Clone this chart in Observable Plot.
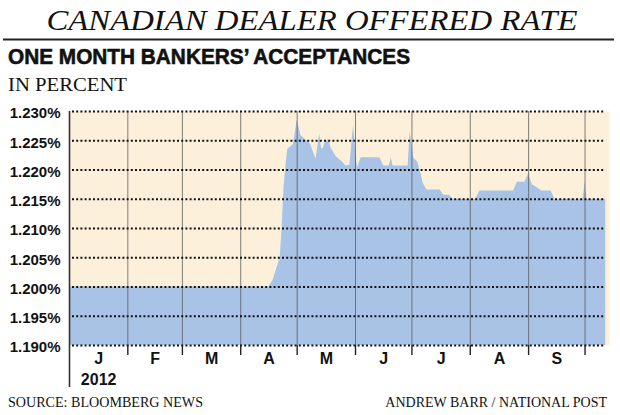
<!DOCTYPE html>
<html>
<head>
<meta charset="utf-8">
<script src="https://cdn.jsdelivr.net/npm/d3@7"></script>
<script src="https://cdn.jsdelivr.net/npm/@observablehq/plot@0.6"></script>
<style>
  html, body { margin: 0; padding: 0; background: #fff; }
  #page { position: relative; width: 620px; height: 415px; overflow: hidden; }
  #header, #footer { position: absolute; left: 0; }
  #header { top: 0; }
  #footer { top: 392px; }
  #chart { position: absolute; top: 100px; left: 0; width: 620px; height: 292px; }
  #chart svg { display: block; max-width: none; }
</style>
</head>
<body>
<div id="page">
  <svg id="header" width="620" height="100">
    <text x="46.5" y="29.5" textLength="531" lengthAdjust="spacingAndGlyphs" font-family="'Liberation Serif', serif" font-style="italic" font-size="30" fill="#111">CANADIAN DEALER OFFERED RATE</text>
    <rect x="3" y="38.5" width="611" height="2" fill="#222"></rect>
    <text x="8" y="63.5" textLength="402" lengthAdjust="spacingAndGlyphs" font-family="'Liberation Sans', sans-serif" font-weight="bold" font-size="22" fill="#111" stroke="#111" stroke-width="0.6">ONE MONTH BANKERS’ ACCEPTANCES</text>
    <text x="8" y="90.5" textLength="119" lengthAdjust="spacingAndGlyphs" font-family="'Liberation Serif', serif" font-size="18.5" fill="#111">IN PERCENT</text>
  </svg>
  <div id="chart"></div>
  <svg id="footer" width="620" height="23">
    <text x="8" y="14.5" textLength="195" lengthAdjust="spacingAndGlyphs" font-family="'Liberation Serif', serif" font-size="14" fill="#111">SOURCE: BLOOMBERG NEWS</text>
    <text x="607" y="14.5" text-anchor="end" font-family="'Liberation Serif', serif" font-size="14" fill="#111">ANDREW BARR / NATIONAL POST</text>
  </svg>
</div>
<script>
// ---- data ----
const dates = [
  "2012-01-01","2012-04-16","2012-04-18","2012-04-20","2012-04-22","2012-04-23","2012-04-24",
  "2012-04-25","2012-04-26","2012-04-29","2012-05-01","2012-05-03","2012-05-06","2012-05-08",
  "2012-05-11","2012-05-13","2012-05-14","2012-05-15","2012-05-16","2012-05-18","2012-05-19",
  "2012-05-22","2012-05-25","2012-05-27","2012-05-29","2012-05-31","2012-06-02","2012-06-04",
  "2012-06-14","2012-06-16","2012-06-19","2012-06-20","2012-06-21","2012-06-29","2012-06-30",
  "2012-07-02","2012-07-04","2012-07-06","2012-07-07","2012-07-09","2012-07-16","2012-07-18",
  "2012-07-21","2012-07-23","2012-08-04","2012-08-06","2012-08-24","2012-08-26","2012-08-30",
  "2012-09-01","2012-09-03","2012-09-06","2012-09-08","2012-09-13","2012-09-15","2012-09-30",
  "2012-10-01","2012-10-02","2012-10-12"
];
const values = [
  1.2000, 1.2000, 1.2010, 1.2030, 1.2050, 1.2100, 1.2170,
  1.2205, 1.2235, 1.2243, 1.2285, 1.2259, 1.2250, 1.2245,
  1.2219, 1.2262, 1.2236, 1.2237, 1.2249, 1.2250, 1.2237,
  1.2222, 1.2214, 1.2207, 1.2208, 1.2276, 1.2203, 1.2221,
  1.2221, 1.2207, 1.2207, 1.2221, 1.2207, 1.2207, 1.2266,
  1.2220, 1.2214, 1.2192, 1.2177, 1.2166, 1.2166, 1.2157,
  1.2157, 1.2150, 1.2150, 1.2164, 1.2164, 1.2179, 1.2179,
  1.2193, 1.2175, 1.2169, 1.2164, 1.2164, 1.2150, 1.2150,
  1.2179, 1.2150, 1.2150
];
const monthStarts = ["2012-01-01","2012-02-01","2012-03-01","2012-04-01","2012-05-01",
  "2012-06-01","2012-07-01","2012-08-01","2012-09-01","2012-10-01"];
const monthLabels = ["J","F","M","A","M","J","J","A","S"];
const yearLabel = "2012";
const yTicks = [1.190, 1.195, 1.200, 1.205, 1.210, 1.215, 1.220, 1.225, 1.230];
const xDomain = ["2012-01-01", "2012-10-14"];

// ---- derived tables ----
const data = dates.map((d, i) => ({date: new Date(d), value: values[i]}));
const starts = monthStarts.map(d => new Date(d));
const mids = monthLabels.map((label, i) => ({
  date: new Date((+starts[i] + +starts[i + 1]) / 2),
  label
}));
const yearData = [{date: mids[0].date, label: yearLabel}];

const peach = "#fdf0db";
const blue = "#a9c3e6";
const font = "'Liberation Sans', Arial, sans-serif";

const chart = Plot.plot({
  width: 620,
  height: 292,
  marginTop: 11,
  marginBottom: 47,
  marginLeft: 69,
  marginRight: 11,
  style: {fontFamily: font, fontSize: "15px", fontWeight: "bold", color: "#111", background: "transparent", maxWidth: "none"},
  x: {type: "utc", domain: xDomain.map(d => new Date(d))},
  y: {domain: [yTicks[0], yTicks[yTicks.length - 1]]},
  marks: [
    Plot.frame({fill: peach, stroke: "none"}),
    Plot.areaY(data, {x: "date", y1: () => yTicks[0], y2: "value", fill: blue, curve: "linear"}),
    Plot.ruleX(starts.slice(1), {stroke: "#555", strokeOpacity: 0.75, strokeWidth: 1}),
    Plot.ruleY(yTicks, {stroke: "#111", strokeWidth: 2, strokeDasharray: "2,2.2", insetLeft: 3, insetRight: 5}),
    Plot.ruleX([starts[0]], {stroke: "#333", strokeWidth: 1.6}),
    Plot.axisX(starts.slice(1), {tickSize: 10, tickFormat: () => "", label: null, stroke: "#222", strokeWidth: 1.4}),
    Plot.axisX([starts[0]], {tickSize: 42, tickFormat: () => "", label: null, stroke: "#333", strokeWidth: 1.6}),
    Plot.axisY(yTicks, {tickSize: 0, tickFormat: () => "", label: null}),
    Plot.text(yTicks, {y: d => d, text: d => d.toFixed(3) + "%", frameAnchor: "left", textAnchor: "end", dx: -9, dy: 2, fontSize: 15, fontWeight: "bold", fill: "#111"}),
    Plot.text(mids, {x: "date", text: "label", frameAnchor: "bottom", lineAnchor: "top", dy: 7, fontSize: 16, fontWeight: "bold", fill: "#111"}),
    Plot.text(yearData, {x: "date", text: "label", frameAnchor: "bottom", lineAnchor: "top", dy: 28, fontSize: 16, fontWeight: "bold", fill: "#111"})
  ]
});
document.getElementById("chart").appendChild(chart);
</script>
</body>
</html>
